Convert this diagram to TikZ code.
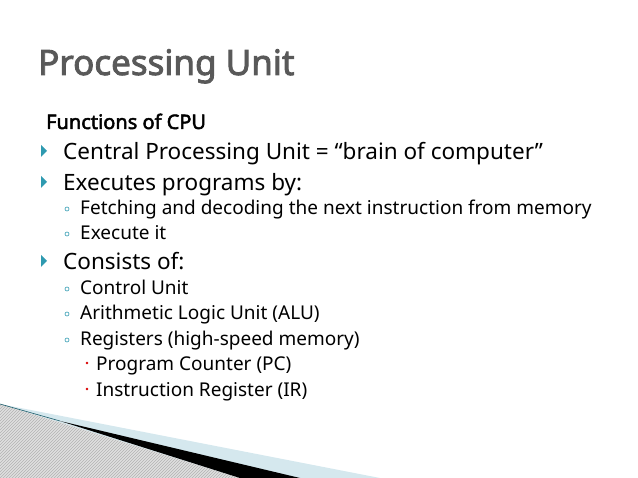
\documentclass[tikz,border=0pt]{standalone}
\usepackage{fontspec}
\setmainfont{Noto Sans}
\newfontfamily\boldnoto{Noto Sans}[FakeBold=2.5]
\usetikzlibrary{patterns}
\definecolor{ttl}{HTML}{595959}
\definecolor{tri}{HTML}{2E9AB0}
\definecolor{lb}{HTML}{D5E8EE}
\begin{document}
\begin{tikzpicture}[x=1pt,y=-1pt,
  t/.style={anchor=base west,inner sep=0pt,text=black},
  l1/.style={t,font=\fontsize{22.5}{26}\selectfont},
  l2/.style={t,font=\fontsize{19}{22}\selectfont},
  cb/.style={draw=tri,line width=0.6pt,fill=white}]
\useasboundingbox (0,0) rectangle (638,478);
% bottom decoration
\fill[lb] (0,404) -- (380,478) -- (240,478) -- cycle;
\fill[gray!25] (0,404) -- (240,478) -- (0,478) -- cycle;
\fill[pattern=north east lines,pattern color=gray!60] (0,404) -- (240,478) -- (0,478) -- cycle;
\fill[black] (60,421) -- (300,478) -- (240,478) -- cycle;
\draw[tri!60!black,line width=0.6pt] (0,404) -- (60,421);
% title
\node[t,text=ttl,font=\boldnoto\fontsize{35}{40}\selectfont] (title) at (38,75) {Processing Unit};
\node[t,font=\boldnoto\fontsize{20}{24}\selectfont] (fn) at (46,129) {Functions of CPU};
% level 1
\node[l1] (a) at (63,160) {Central Processing Unit = “brain of computer”};
\node[l1] (b) at (63,191) {Executes programs by:};
\node[l1] (c) at (63,270) {Consists of:};
\foreach \y in {160,191,270} \fill[tri] (41,\y-15) -- (47,\y-9) -- (41,\y-3) -- cycle;
% level 2
\node[l2] (b1) at (80,215) {Fetching and decoding the next instruction from memory};
\node[l2] (b2) at (80,240) {Execute it};
\node[l2] (c1) at (80,295) {Control Unit};
\node[l2] (c2) at (80,320) {Arithmetic Logic Unit (ALU)};
\node[l2] (c3) at (80,346) {Registers (high-speed memory)};
\foreach \y in {215,240,295,320,346} \draw[cb] (67,\y-6) circle (2);
% level 3
\node[l2] (d1) at (96,371) {Program Counter (PC)};
\node[l2] (d2) at (96,397) {Instruction Register (IR)};
\foreach \y in {371,397} \fill[red!85!black] (87,\y-8) circle (1.3);
\end{tikzpicture}
\end{document}
